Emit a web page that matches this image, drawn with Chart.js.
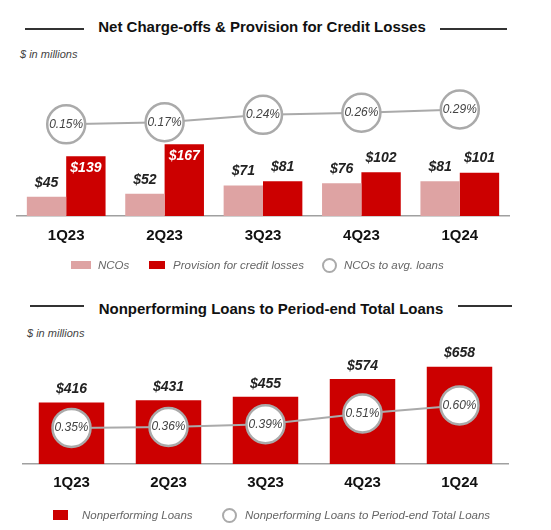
<!DOCTYPE html>
<html>
<head>
<meta charset="utf-8">
<script src="https://cdn.jsdelivr.net/npm/chart.js@4"></script>
<style>
  html, body { margin:0; padding:0; background:#fff; }
  body { width:551px; height:530px; position:relative; overflow:hidden; font-family:"Liberation Sans", Arial, sans-serif; }
  .abs { position:absolute; white-space:nowrap; }
  .title { font-weight:bold; font-size:15px; color:#111; line-height:20px; transform:translateX(-50%); }
  .rule { position:absolute; height:2px; background:#333; }
  .unit { font-style:italic; font-size:11px; color:#444; line-height:14px; }
  .leg { font-style:italic; font-size:11.5px; color:#666; line-height:14px; }
  .sw { position:absolute; }
  .circ { position:absolute; width:11px; height:11px; border:2px solid #aaa; border-radius:50%; background:#fff; }
  canvas { position:absolute; left:0; }
</style>
</head>
<body>
<!-- Top section -->
<div class="rule" style="left:25px; width:59px; top:28px;"></div>
<div class="rule" style="left:440px; width:67px; top:28px;"></div>
<div class="abs title" style="left:262px; top:17px;">Net Charge-offs &amp; Provision for Credit Losses</div>
<div class="abs unit" style="left:20px; top:47px;">$ in millions</div>
<canvas id="c1" width="551" height="192" style="top:70px; width:551px; height:192px;"></canvas>
<div class="sw" style="left:71px; top:261px; width:20px; height:8px; background:#dea3a3;"></div>
<div class="abs leg" style="left:98px; top:258px;">NCOs</div>
<div class="sw" style="left:149px; top:261px; width:16px; height:8px; background:#cc0000;"></div>
<div class="abs leg" style="left:173px; top:258px;">Provision for credit losses</div>
<div class="circ" style="left:322px; top:258px;"></div>
<div class="abs leg" style="left:344px; top:258px;">NCOs to avg. loans</div>

<!-- Bottom section -->
<div class="rule" style="left:30px; width:54px; top:305px;"></div>
<div class="rule" style="left:458px; width:54px; top:305px;"></div>
<div class="abs title" style="left:271px; top:299px;">Nonperforming Loans to Period-end Total Loans</div>
<div class="abs unit" style="left:27px; top:326px;">$ in millions</div>
<canvas id="c2" width="551" height="170" style="top:340px; width:551px; height:170px;"></canvas>
<div class="sw" style="left:53px; top:510px; width:15px; height:10px; background:#cc0000;"></div>
<div class="abs leg" style="left:82px; top:508px;">Nonperforming Loans</div>
<div class="circ" style="left:222px; top:508px;"></div>
<div class="abs leg" style="left:245px; top:508px;">Nonperforming Loans to Period-end Total Loans</div>

<script>
// ---- Data ----
const quarters = ["1Q23", "2Q23", "3Q23", "4Q23", "1Q24"];
const ncos = [45, 52, 71, 76, 81];
const provision = [139, 167, 81, 102, 101];
const ncoRatio = [0.15, 0.17, 0.24, 0.26, 0.29];
const npl = [416, 431, 455, 574, 658];
const nplRatio = [0.35, 0.36, 0.39, 0.51, 0.60];

const FONT = '"Liberation Sans", Arial, sans-serif';

const valueLabels = {
  id: 'valueLabels',
  afterDatasetsDraw(chart, args, opts) {
    const ctx = chart.ctx;
    chart.data.datasets.forEach((ds, i) => {
      const meta = chart.getDatasetMeta(i);
      meta.data.forEach((el, j) => {
        const v = ds.data[j];
        ctx.save();
        ctx.textAlign = 'center';
        ctx.textBaseline = 'middle';
        if (meta.type === 'bar') {
          ctx.font = 'italic bold 14px ' + FONT;
          const inside = opts.insideMin != null && v >= opts.insideMin;
          ctx.fillStyle = inside ? '#ffffff' : '#222222';
          ctx.fillText('$' + v, el.x, inside ? el.y + 12 : el.y - (opts.above || 14));
        } else {
          ctx.font = 'italic 12px ' + FONT;
          ctx.fillStyle = '#444444';
          ctx.fillText(v.toFixed(2) + '%', el.x, el.y);
        }
        ctx.restore();
      });
    });
  }
};

function lineDataset(label, data) {
  return {
    type: 'line', label, data, yAxisID: 'y2', order: 0,
    borderColor: '#aaaaaa', borderWidth: 2, tension: 0,
    pointRadius: 19, pointHoverRadius: 19,
    pointBackgroundColor: '#ffffff', pointBorderColor: '#aaaaaa', pointBorderWidth: 2.5,
    clip: false
  };
}

function xScale(pad) {
  return {
    grid: { display: false, drawTicks: false },
    border: { display: true, color: '#a0a0a0', width: 1.5 },
    ticks: { color: '#111', font: { family: FONT, size: 15, weight: 'bold' }, padding: pad }
  };
}

new Chart(document.getElementById('c1'), {
  type: 'bar',
  data: {
    labels: quarters,
    datasets: [
      lineDataset('NCOs to avg. loans', ncoRatio),
      { label: 'NCOs', data: ncos, backgroundColor: '#dea3a3', order: 1,
        categoryPercentage: 0.8, barPercentage: 1.0 },
      { label: 'Provision for credit losses', data: provision, backgroundColor: '#cc0000', order: 1,
        categoryPercentage: 0.8, barPercentage: 1.0 }
    ]
  },
  options: {
    responsive: false, animation: false,
    layout: { autoPadding: false, padding: { left: 17, right: 42, top: 0, bottom: 6 } },
    plugins: { legend: { display: false }, tooltip: { enabled: false },
               valueLabels: { insideMin: 120, above: 14 } },
    scales: {
      x: xScale(11),
      y: { display: false, min: 0, max: 340 },
      y2: { display: false, min: -0.7167, max: 0.664 }
    }
  },
  plugins: [valueLabels]
});

new Chart(document.getElementById('c2'), {
  type: 'bar',
  data: {
    labels: quarters,
    datasets: [
      lineDataset('Nonperforming Loans to Period-end Total Loans', nplRatio),
      { label: 'Nonperforming Loans', data: npl, backgroundColor: '#cc0000', order: 1,
        categoryPercentage: 0.675, barPercentage: 1.0 }
    ]
  },
  options: {
    responsive: false, animation: false,
    layout: { autoPadding: false, padding: { left: 23, right: 43, top: 0, bottom: 8 } },
    plugins: { legend: { display: false }, tooltip: { enabled: false },
               valueLabels: { above: 13 } },
    scales: {
      x: xScale(10),
      y: { display: false, min: 0, max: 838 },
      y2: { display: false, min: -0.052, max: 1.328 }
    }
  },
  plugins: [valueLabels]
});
</script>
</body>
</html>
